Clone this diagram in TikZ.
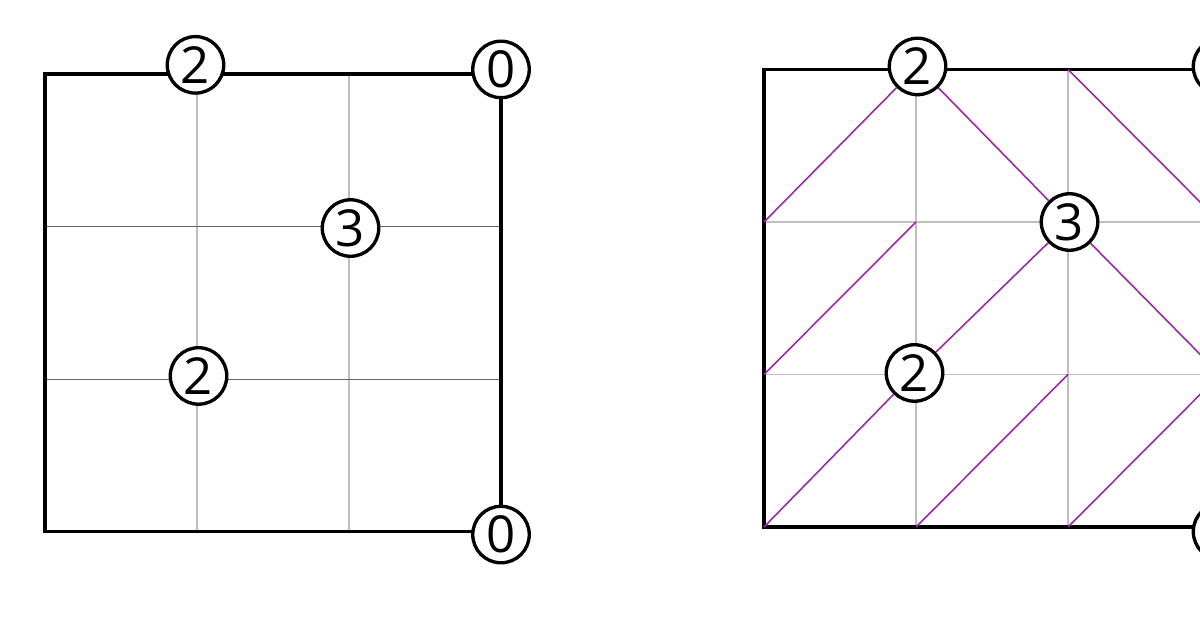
\documentclass[tikz,border=0pt]{standalone}
\usepackage{fontspec}
\setmainfont{Open Sans}
\definecolor{diag}{RGB}{155,40,165}
\definecolor{lightgrid}{RGB}{190,190,190}
\definecolor{darkgrid}{RGB}{100,100,100}

\begin{document}
\begin{tikzpicture}[
        num/.style={circle,draw=black,line width=1.9pt,fill=white,minimum size=1.13cm,inner sep=0pt,font=\fontsize{29}{29}\selectfont},
        rim/.style={black,line width=2.1pt},
        fold/.style={diag,line width=0.9pt}]
        \clip (0,0) rectangle (24,12.6);
        \begin{scope}[shift={(0.9,1.97)},x=3.04cm,y=3.05cm]
                \draw[lightgrid,line width=0.8pt] (1,0) -- (1,3);
                \draw[lightgrid,line width=0.8pt] (2,0) -- (2,3);
                \draw[darkgrid,line width=0.4pt] (0,1) -- (3,1);
                \draw[darkgrid,line width=0.4pt] (0,2) -- (3,2);
                \draw[rim] (0,0) rectangle (3,3);
                \node[num] (ltop) at (0.99,3.06) {2};
                \node[num] (lne) at (3,3.03) {0};
                \node[num] (lmid) at (2.01,1.99) {3};
                \node[num] (llow) at (1.01,1.02) {2};
                \node[num] (lse) at (3,-0.02) {0};
        \end{scope}
        \begin{scope}[shift={(15.28,2.06)},x=3.04cm,y=3.05cm]
                \draw[lightgrid,line width=0.8pt] (1,0) -- (1,3);
                \draw[lightgrid,line width=0.8pt] (2,0) -- (2,3);
                \draw[lightgrid,line width=0.8pt] (0,1) -- (3,1);
                \draw[lightgrid,line width=0.8pt] (0,2) -- (3,2);
                \draw[rim] (0,0) rectangle (3,3);
                \coordinate (p00) at (0,0);
                \coordinate (p10) at (1,0);
                \coordinate (p20) at (2,0);
                \coordinate (p01) at (0,1);
                \coordinate (p21) at (2,1);
                \coordinate (p31) at (3,1);
                \coordinate (p02) at (0,2);
                \coordinate (p12) at (1,2);
                \coordinate (p32) at (3,2);
                \coordinate (p23) at (2,3);
                \node[num] (rtop) at (1.01,3.02) {2};
                \node[num] (rne) at (3.01,3.02) {0};
                \node[num] (rmid) at (2.01,2) {3};
                \node[num] (rlow) at (0.99,1.01) {2};
                \node[num] (rse) at (3.01,-0.03) {0};
                \draw[fold] (p02) -- (rtop);
                \draw[fold] (rtop) -- (rmid);
                \draw[fold] (p23) -- (p32);
                \draw[fold] (p01) -- (p12);
                \draw[fold] (rlow) -- (rmid);
                \draw[fold] (rmid) -- (p31);
                \draw[fold] (p00) -- (rlow);
                \draw[fold] (p10) -- (p21);
                \draw[fold] (p20) -- (p31);
        \end{scope}
\end{tikzpicture}
\end{document}
